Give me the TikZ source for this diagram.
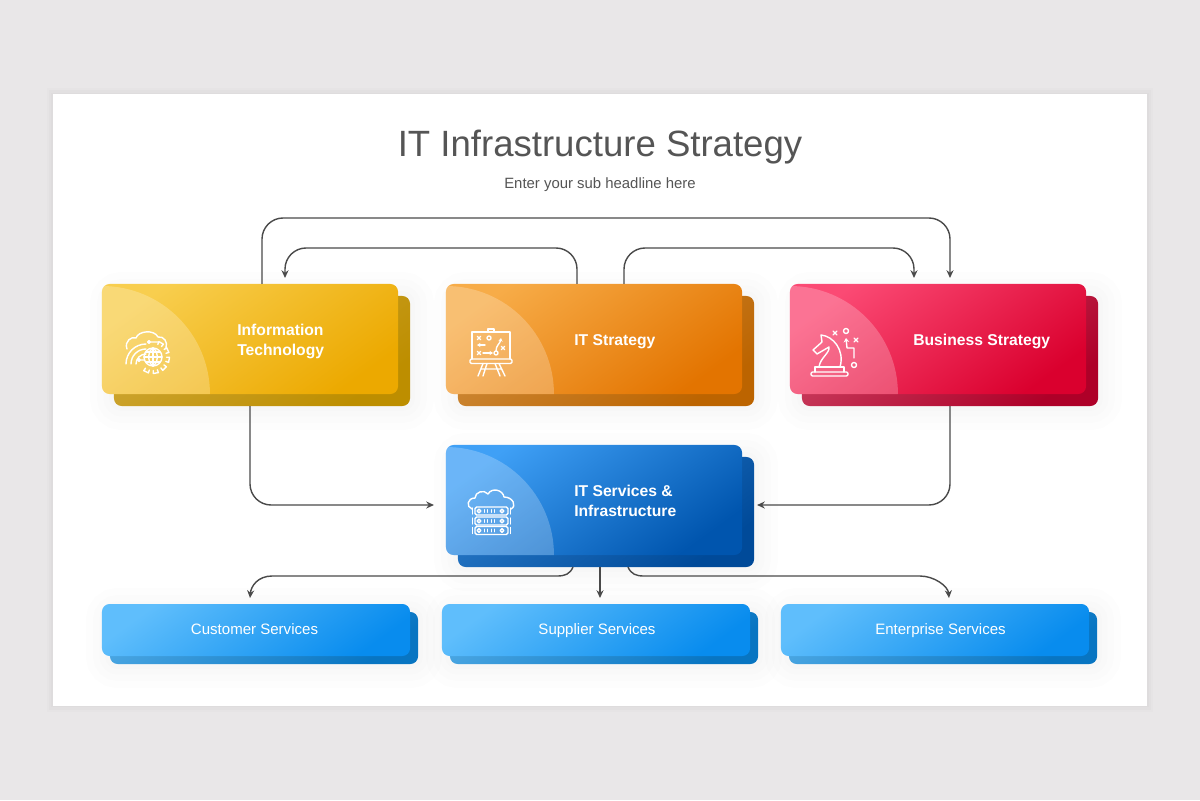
\documentclass[tikz,border=0pt]{standalone}
\usepackage{fontspec}
\setmainfont{Liberation Sans}
\usetikzlibrary{arrows.meta,calc}

\definecolor{pagegray}{HTML}{E9E7E8}
\definecolor{linegray}{HTML}{4A4A4A}
\definecolor{titlegray}{HTML}{555555}
\definecolor{yellowa}{HTML}{F8CE4E}
\definecolor{yellowb}{HTML}{ECA900}
\definecolor{yellowc}{HTML}{CFA838}
\definecolor{yellowd}{HTML}{BD8E00}
\definecolor{orangea}{HTML}{F7AC48}
\definecolor{orangeb}{HTML}{E37400}
\definecolor{orangec}{HTML}{CE8C3C}
\definecolor{oranged}{HTML}{BC6400}
\definecolor{reda}{HTML}{FB4A74}
\definecolor{redb}{HTML}{DA002E}
\definecolor{redc}{HTML}{CC4565}
\definecolor{redd}{HTML}{AE0028}
\definecolor{bluea}{HTML}{3FA0F6}
\definecolor{blueb}{HTML}{0055AE}
\definecolor{bluec}{HTML}{2A7CCB}
\definecolor{blued}{HTML}{004A99}
\definecolor{skya}{HTML}{5FBEFC}
\definecolor{skyb}{HTML}{088CEE}
\definecolor{skyc}{HTML}{4AA6E2}
\definecolor{skyd}{HTML}{0875C2}

\tikzset{
    boxfill/.style 2 args={top color=#1, bottom color=#2, shading angle=36},
    softshadow/.style={
        preaction={draw=black, draw opacity=0.006, line width=34pt},
        preaction={draw=black, draw opacity=0.006, line width=24pt},
        preaction={draw=black, draw opacity=0.007, line width=15pt},
        preaction={draw=black, draw opacity=0.008, line width=7pt}},
    panelshadow/.style={
        preaction={draw=black, draw opacity=0.012, line width=9pt},
        preaction={draw=black, draw opacity=0.015, line width=5pt},
        preaction={draw=black, draw opacity=0.015, line width=2pt}},
    bigbox/.style={rectangle, rounded corners=5.5pt, inner sep=0pt, outer sep=0pt, minimum width=7.4cm, minimum height=2.75cm},
    smallbox/.style={rectangle, rounded corners=5.5pt, inner sep=0pt, outer sep=0pt, minimum width=7.7cm, minimum height=1.3cm},
    boldlabel/.style={text=white, align=left, anchor=west, inner sep=0pt, font=\bfseries\fontsize{11.15}{14.2}\selectfont},
    smalllabel/.style={text=white, inner sep=0pt, anchor=base, font=\fontsize{10.7}{13}\selectfont},
    conn/.style={draw=linegray, line width=1pt, rounded corners=15pt, -{Stealth[length=5.5pt,width=5pt]}},
    connbend/.style={draw=linegray, line width=1pt, -{Stealth[length=5.5pt,width=5pt]}},
    icon/.style={draw=white, line width=1pt, line cap=round, line join=round},
    tinyx/.pic={\draw[icon, line width=0.85pt] (-2,-2) -- (2,2) (-2,2) -- (2,-2);},
}

\begin{document}
\begin{tikzpicture}[x=0.025cm, y=-0.025cm]
    \useasboundingbox[fill=pagegray] (0,0) rectangle (1200,800);
    \node[rectangle, fill=white, inner sep=0pt, minimum width=27.35cm, minimum height=15.3cm, panelshadow] (panel) at (600,400) {};

    \node[text=titlegray, inner sep=0pt, font=\fontsize{26}{30}\selectfont] (title) at (600,147) {IT Infrastructure Strategy};
    \node[text=titlegray, inner sep=0pt, font=\fontsize{10.6}{13}\selectfont] (subtitle) at (600,185) {Enter your sub headline here};

    % back layers
    \node[bigbox, softshadow, boxfill={yellowc}{yellowd}] (infoback) at (262,351) {};
    \node[bigbox, softshadow, boxfill={orangec}{oranged}] (strategyback) at (606,351) {};
    \node[bigbox, softshadow, boxfill={redc}{redd}] (businessback) at (950,351) {};
    \node[bigbox, softshadow, boxfill={bluec}{blued}] (servicesback) at (606,512) {};
    \node[smallbox, softshadow, boxfill={skyc}{skyd}] (customerback) at (264,638) {};
    \node[smallbox, softshadow, boxfill={skyc}{skyd}] (supplierback) at (604,638) {};
    \node[smallbox, softshadow, boxfill={skyc}{skyd}] (enterpriseback) at (943,638) {};

    % front layers
    \node[bigbox, boxfill={yellowa}{yellowb}] (info) at (250,339) {};
    \node[bigbox, boxfill={orangea}{orangeb}] (strategy) at (594,339) {};
    \node[bigbox, boxfill={reda}{redb}] (business) at (938,339) {};
    \node[bigbox, boxfill={bluea}{blueb}] (services) at (594,500) {};
    \node[smallbox, boxfill={skya}{skyb}] (customer) at (256,630) {};
    \node[smallbox, boxfill={skya}{skyb}] (supplier) at (596,630) {};
    \node[smallbox, boxfill={skya}{skyb}] (enterprise) at (935,630) {};

    \foreach \n in {info,strategy,business,services}
    {
        \begin{scope}
            \clip[rounded corners=5.5pt] (\n.north west) rectangle (\n.south east);
            \fill[white, opacity=0.23] (\n.south west) circle (108);
        \end{scope}
    }

    \node[boldlabel] (infotext) at (237,341.5) {Information\\Technology};
    \node[boldlabel] (strategytext) at (574,341.5) {IT Strategy};
    \node[boldlabel] (businesstext) at (913,341.5) {Business Strategy};
    \node[boldlabel] (servicestext) at (574,500.5) {IT Services \&\\Infrastructure};
    \node[smalllabel] (customertext) at (254.5,634) {Customer Services};
    \node[smalllabel] (suppliertext) at (597,634) {Supplier Services};
    \node[smalllabel] (enterprisetext) at (940.5,634) {Enterprise Services};

    % connectors
    \draw[conn] ($(info.north)+(12,0)$) -- ++(0,-66) -| ($(business.north)+(12,-6)$);
    \draw[conn] ($(strategy.north)+(-17,0)$) -- ++(0,-36) -| ($(info.north)+(35,-6)$);
    \draw[conn] ($(strategy.north)+(30,0)$) -- ++(0,-36) -| ($(business.north)+(-24,-6)$);
    \draw[conn] ($(infoback.south)+(-12,0)$) |- ($(services.west)+(-12,5)$);
    \draw[conn] ($(businessback.south)+(0,0)$) |- ($(servicesback.east)+(3,-7)$);
    \draw[connbend] ($(servicesback.south)+(-33,0)$) .. controls +(-3,7) and +(8,0) .. ++(-16,9) -- ++(-285,0)
        .. controls +(-14,0) and +(1,-12) .. ($(customer.north)+(-6,-6)$);
    \draw[connbend] ($(servicesback.south)+(-6,0)$) -- ($(supplier.north)+(4,-6)$);
    \draw[connbend] ($(servicesback.south)+(22,0)$) .. controls +(3,7) and +(-8,0) .. ++(16,9) -- ++(276,0)
        .. controls +(14,0) and +(-1,-12) .. ($(enterprise.north)+(14,-6)$);

    % globe icon
    \draw[icon] (153,357) circle (9);
    \draw[icon] (144,357) -- (162,357) (146,352) -- (160,352) (146,362) -- (160,362) (153,348) -- (153,366);
    \draw[icon] (153,348) .. controls (147,352) and (147,362) .. (153,366);
    \draw[icon] (153,348) .. controls (159,352) and (159,362) .. (153,366);
    \foreach \a in {-60,-25,10,45,80,115}
        \draw[icon] ($(153,357)+(\a-9:13.5)$) -- ($(153,357)+(\a-9:16.5)$) -- ($(153,357)+(\a+9:16.5)$) -- ($(153,357)+(\a+9:13.5)$);
    \draw[icon] (127,349) .. controls (124,341) and (132,336) .. (136,338) .. controls (138,331) and (154,329) .. (158,337)
        .. controls (164,336) and (168,342) .. (166,348);
    \foreach \r in {10,15,20}
        \draw[icon] (146-\r,364) arc[start angle=180, end angle=270, radius=\r];
    \draw[icon] (149,342) circle (1.3) (150.5,342) -- (158,342);
    \draw[icon] (139,360) circle (1.3) (140.5,360) -- (144,360);

    % board icon
    \draw[icon] (472,359) -- (472,332) -- (510,332) -- (510,359);
    \draw[icon] (488,332) -- (488,329) -- (494,329) -- (494,332);
    \draw[icon, rounded corners=1pt] (470,359) rectangle (512,363.5);
    \draw[icon] (483,363.5) -- (478,376) (499,363.5) -- (505,376) (487,363.5) -- (483,376) (495,363.5) -- (500,376) (481,369) -- (501,369);
    \pic[scale=0.9] at (479,338) {tinyx};
    \pic[scale=0.9] at (503,348) {tinyx};
    \pic[scale=0.9] at (479,353) {tinyx};
    \draw[icon] (489,338) circle (2) (496,353) circle (2);
    \draw[icon, -{Stealth[length=2.5pt,width=3pt]}] (485,345) -- (477,345);
    \draw[icon, -{Stealth[length=2.5pt,width=3pt]}] (483,353) -- (493,353);
    \draw[icon, -{Stealth[length=2.5pt,width=3pt]}] (496,351) .. controls (496,345) and (500,344) .. (501,338);

    % knight icon
    \draw[icon, rounded corners=1pt] (811,372) rectangle (848,376);
    \draw[icon] (815,372) -- (815,367) -- (844,367) -- (844,372);
    \draw[icon] (819,367) .. controls (820,358) and (830,353) .. (829,347) -- (817,354) -- (813,350) -- (822,342) -- (821,335)
        .. controls (833,336) and (845,350) .. (840,367);
    \pic at (835,333) {tinyx};
    \pic at (856,340) {tinyx};
    \draw[icon] (846,331) circle (2.5) (854,365) circle (2.5);
    \draw[icon, -{Stealth[length=3pt,width=4pt]}] (854,358) -- (854,348) -- (847,348) -- (846,338);

    % cloud icon
    \draw[icon] (472,509) .. controls (466,507) and (467,498) .. (475,498) .. controls (475,492) and (484,489) .. (488,494)
        .. controls (492,487) and (503,490) .. (504,497) .. controls (513,497) and (517,506) .. (511,509);
    \foreach \y in {511,521,530.5}
    {
        \draw[icon, rounded corners=1.2pt] (475,\y-4) rectangle (508,\y+4);
        \draw[icon] (472.5,\y-3) -- (472.5,\y+3) (510.5,\y-3) -- (510.5,\y+3);
        \draw[icon] (479,\y) circle (1.8) (502,\y) circle (1.8);
        \foreach \x in {484,487.5,491,494.5}
            \draw[icon, line width=0.6pt] (\x,\y-1.5) -- (\x,\y+1.5);
    }
\end{tikzpicture}
\end{document}
